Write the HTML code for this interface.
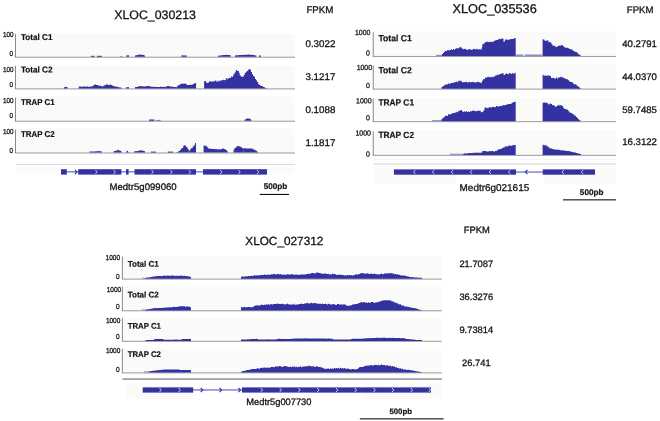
<!DOCTYPE html>
<html><head><meta charset="utf-8"><title>Figure</title>
<style>html,body{margin:0;padding:0;background:#fff}svg{display:block}</style></head>
<body>
<svg width="660" height="421" viewBox="0 0 660 421">
<style>text{font-family:"Liberation Sans",Arial,sans-serif;text-rendering:geometricPrecision;fill:#151515;stroke:#151515;stroke-width:0.3px}.b{font-weight:bold;stroke-width:0.2px}.t{stroke-width:0.28px}</style>
<defs><pattern id="dots" width="2" height="2" patternUnits="userSpaceOnUse"><rect width="2" height="2" fill="#fdfdfc"/><rect width="1" height="1" fill="#f5f5f2"/><rect x="1" y="1" width="1" height="1" fill="#f9f9f7"/></pattern></defs>
<defs><pattern id="dots2" width="2" height="2" patternUnits="userSpaceOnUse"><rect width="2" height="2" fill="#fdfdfc"/><rect width="1" height="1" fill="#f7f7f5"/><rect x="1" y="1" width="1" height="1" fill="#f9f9f8"/></pattern></defs>
<rect width="660" height="421" fill="#fff"/>
<text x="155.1" y="19.1" font-size="12.35" text-anchor="middle">XLOC_030213</text>
<text x="306.4" y="13.1" font-size="9.75">FPKM</text>
<rect x="16.30" y="33.00" width="278.70" height="24.20" fill="url(#dots)"/>
<rect x="15.00" y="56.75" width="280.00" height="0.9" fill="#8e8e8e"/>
<rect x="15.00" y="33.80" width="0.9" height="23.40" fill="#7c7c7c"/>
<text transform="translate(13.50 36.70) rotate(0.03) scale(0.875 1)" font-size="7.20" text-anchor="end" class="t">100</text>
<text transform="translate(13.00 56.20) rotate(0.03) scale(0.875 1)" font-size="7.20" text-anchor="end" class="t">0</text>
<text transform="translate(20.90 39.90) rotate(0.03) scale(0.960 1)" font-size="8.50" text-anchor="start" class="b">Total C1</text>
<rect x="16.30" y="65.00" width="278.70" height="23.90" fill="url(#dots)"/>
<rect x="15.00" y="88.45" width="280.00" height="0.9" fill="#8e8e8e"/>
<rect x="15.00" y="65.80" width="0.9" height="23.10" fill="#7c7c7c"/>
<text transform="translate(13.50 71.60) rotate(0.03) scale(0.875 1)" font-size="7.20" text-anchor="end" class="t">100</text>
<text transform="translate(13.00 87.20) rotate(0.03) scale(0.875 1)" font-size="7.20" text-anchor="end" class="t">0</text>
<text transform="translate(20.90 72.40) rotate(0.03) scale(0.960 1)" font-size="8.50" text-anchor="start" class="b">Total C2</text>
<rect x="16.30" y="96.80" width="278.70" height="24.40" fill="url(#dots)"/>
<rect x="15.00" y="120.75" width="280.00" height="0.9" fill="#8e8e8e"/>
<rect x="15.00" y="97.60" width="0.9" height="23.60" fill="#7c7c7c"/>
<text transform="translate(13.50 102.70) rotate(0.03) scale(0.875 1)" font-size="7.20" text-anchor="end" class="t">100</text>
<text transform="translate(13.00 118.30) rotate(0.03) scale(0.875 1)" font-size="7.20" text-anchor="end" class="t">0</text>
<text transform="translate(20.90 105.00) rotate(0.03) scale(0.931 1)" font-size="8.50" text-anchor="start" class="b">TRAP C1</text>
<rect x="16.30" y="128.80" width="278.70" height="24.20" fill="url(#dots)"/>
<rect x="15.00" y="152.55" width="280.00" height="0.9" fill="#8e8e8e"/>
<rect x="15.00" y="129.60" width="0.9" height="23.40" fill="#7c7c7c"/>
<text transform="translate(13.50 134.40) rotate(0.03) scale(0.875 1)" font-size="7.20" text-anchor="end" class="t">100</text>
<text transform="translate(13.00 153.20) rotate(0.03) scale(0.875 1)" font-size="7.20" text-anchor="end" class="t">0</text>
<text transform="translate(20.90 136.70) rotate(0.03) scale(0.931 1)" font-size="8.50" text-anchor="start" class="b">TRAP C2</text>
<path d="M91.0 56.8L91.0 56.8L91.0 55.8L91.9 55.8L92.8 55.8L93.6 55.8L94.5 55.8L94.5 56.8L94.5 56.8Z" fill="#3431a1"/>
<path d="M97.0 56.8L97.0 56.8L97.0 55.8L98.0 55.8L98.9 55.8L99.9 55.8L100.8 55.8L101.8 55.8L101.8 56.8L101.8 56.8Z" fill="#3431a1"/>
<path d="M120.6 56.8L120.6 56.8L120.6 56.0L121.6 56.0L121.6 56.8L121.6 56.8Z" fill="#3431a1"/>
<path d="M126.5 56.8L126.5 56.8L126.5 55.3L127.8 55.3L129.0 55.3L129.0 56.8L129.0 56.8Z" fill="#3431a1"/>
<path d="M135.0 56.8V56.8H135.0V55.5H136.0V55.3H137.0V55.0H138.0V54.8H139.0V54.6H140.0V54.8H141.0V54.8H142.0V54.8H143.0V55.1H144.0V55.6H145.0V55.8H145.0V56.8V56.8Z" fill="#3431a1"/>
<path d="M181.4 56.8L181.4 56.8L181.4 55.2L182.3 55.3L183.1 55.4L184.0 55.5L184.9 55.5L185.9 55.6L186.8 55.6L186.8 56.8L186.8 56.8Z" fill="#3431a1"/>
<path d="M217.5 56.8V56.8H218.0V55.8H219.0V55.6H220.0V55.5H221.0V55.3H222.0V55.2H223.0V55.0H224.0V55.1H225.0V54.9H226.0V54.8H226.9V55.0H227.9V54.9H228.8V55.1H229.8V55.3H230.7V55.3H230.7V56.8V56.8Z" fill="#3431a1"/>
<path d="M234.5 56.8V56.8H235.0V55.5H236.0V55.3H237.0V55.2H238.0V55.2H239.0V55.1H240.0V55.0H241.0V55.0H242.0V55.0H243.0V54.8H244.0V54.9H245.0V54.8H246.0V54.8H247.0V54.8H248.0V54.6H249.0V54.7H250.0V54.8H251.0V54.8H252.0V54.9H253.0V55.0H254.1V55.2H255.3V55.4H256.4V55.6H256.4V56.8V56.8Z" fill="#3431a1"/>
<path d="M259.0 56.8L259.0 56.8L259.0 55.6L260.0 55.6L261.0 55.6L261.0 56.8L261.0 56.8Z" fill="#3431a1"/>
<path d="M63.6 88.5L63.6 88.5L64.0 87.5L65.0 86.9L66.2 86.9L67.5 86.9L67.5 88.5L67.5 88.5Z" fill="#3431a1"/>
<path d="M78.8 88.5V88.5H78.8V86.6H79.8V86.5H80.9V86.7H81.9V86.7H82.9V86.4H84.0V86.5H85.0V86.7H86.0V86.5H87.1V86.5H88.1V86.7H89.1V86.7H90.2V86.6H91.2V86.5H92.1V86.3H93.0V85.5H94.0V84.8H95.0V84.5H96.0V84.9H97.0V84.9H98.0V85.5H99.0V85.8H99.9V85.7H100.8V86.1H101.8V86.5H102.7V86.3H103.5V85.5H104.5V85.2H105.6V84.5H106.8V84.4H108.0V85.1H109.0V85.1H110.0V84.6H111.0V85.0H112.0V85.5H113.0V85.9H114.2V86.4H115.5V86.5H116.5V86.7H117.5V86.9H118.5V87.2H119.4V87.4H120.4V87.5H121.3V87.7H121.3V88.5V88.5Z" fill="#3431a1"/>
<path d="M126.2 88.5L126.2 88.5L126.2 87.2L127.1 87.2L128.1 87.2L129.0 87.2L129.0 88.5L129.0 88.5Z" fill="#3431a1"/>
<path d="M135.0 88.5V88.5H135.0V87.0H135.9V86.9H136.9V86.9H137.8V86.6H138.8V86.1H139.7V86.2H140.7V86.0H141.7V86.4H142.7V86.3H143.7V86.4H144.8V86.4H145.8V86.0H146.8V86.3H147.8V86.1H148.8V86.1H149.8V86.4H150.8V86.7H151.8V86.8H152.8V86.7H153.8V87.0H154.9V86.8H155.9V87.0H156.9V86.9H157.9V87.0H158.9V86.9H159.9V86.7H160.9V86.8H162.0V87.0H163.0V86.7H164.0V86.9H165.0V86.7H166.0V86.4H167.0V86.0H168.0V85.9H169.0V86.2H170.0V86.4H171.0V86.7H172.0V86.5H173.0V86.9H174.0V87.0H175.0V87.0H176.0V87.2H176.8V86.4H177.6V85.5H178.6V85.0H179.6V84.6H180.6V83.5H181.6V84.0H182.5V83.4H183.4V83.7H184.4V83.4H185.6V84.0H186.7V84.9H187.8V85.0H188.9V85.0H190.1V84.6H191.2V85.0H192.1V84.6H193.0V84.1H194.0V83.5H195.0V83.0H196.1V82.7H196.1V88.5V88.5Z" fill="#3431a1"/>
<path d="M204.1 88.5V88.5H204.1V81.2H205.1V80.9H206.0V82.5H206.9V82.9H207.9V82.6H209.0V81.5H210.2V81.2H211.3V81.9H212.4V81.0H213.4V81.7H214.4V80.8H215.4V80.5H216.5V81.9H217.5V80.7H218.5V81.6H219.6V80.4H220.8V80.5H221.9V80.3H223.0V79.7H223.9V80.2H224.8V80.1H225.8V78.1H226.7V79.2H227.6V78.5H228.7V77.7H229.8V78.0H230.9V76.6H232.0V76.7H233.2V74.6H234.4V72.9H235.2V71.8H235.9V69.9H237.1V71.0H238.2V70.9H238.9V72.7H239.7V75.2H240.7V76.5H241.7V76.7H242.7V76.7H243.7V75.1H244.8V73.0H245.8V72.1H246.7V70.9H247.6V70.5H248.5V69.1H249.8V69.8H251.0V72.1H252.0V74.2H253.0V76.0H254.0V76.7H255.0V78.9H256.0V80.3H257.0V82.0H258.2V84.3H259.4V85.0H260.3V85.8H261.2V86.0H262.2V86.3H263.1V87.1H264.0V87.3H265.1V87.9H266.2V88.5V88.5Z" fill="#3431a1"/>
<path d="M149.0 120.8L149.0 120.8L149.0 119.5L149.9 119.5L150.8 119.5L151.8 119.5L152.7 119.5L153.6 119.5L154.5 119.5L154.5 120.8L154.5 120.8Z" fill="#3431a1"/>
<path d="M156.0 120.8L156.0 120.8L156.0 119.9L157.1 119.9L158.2 119.9L159.4 119.9L160.5 119.9L160.5 120.8L160.5 120.8Z" fill="#6a6ac4"/>
<path d="M244.3 120.8L244.3 120.8L245.0 119.6L245.8 119.2L246.5 118.8L247.2 118.6L248.0 118.5L248.9 118.6L249.8 118.8L251.0 119.6L251.6 120.8L251.6 120.8Z" fill="#3431a1"/>
<path d="M89.5 152.6L89.5 152.6L89.5 151.6L90.4 151.6L91.3 151.5L92.2 151.5L93.2 151.5L94.1 151.4L95.0 151.4L96.0 151.3L97.0 151.2L98.0 151.2L99.0 151.1L100.0 151.3L101.0 151.4L102.0 151.6L102.0 152.6L102.0 152.6Z" fill="#3431a1"/>
<path d="M113.4 152.6L113.4 152.6L114.0 151.1L115.0 150.9L116.0 150.8L117.0 150.6L118.0 149.4L119.0 150.4L120.2 150.8L121.4 151.1L121.4 152.6L121.4 152.6Z" fill="#3431a1"/>
<path d="M126.0 152.6L126.0 152.6L127.0 150.6L128.0 151.6L129.0 152.6L129.0 152.6Z" fill="#3431a1"/>
<path d="M134.0 152.6L134.0 152.6L134.0 151.4L135.0 151.3L136.0 151.2L137.0 151.2L138.0 151.1L139.0 150.7L140.0 150.2L141.0 150.4L142.0 150.6L143.0 150.8L144.0 151.1L145.0 151.4L145.0 152.6L145.0 152.6Z" fill="#3431a1"/>
<path d="M151.0 152.6L151.0 152.6L151.0 151.6L151.9 151.6L152.9 151.6L153.8 151.6L154.8 151.6L155.7 151.6L155.7 152.6L155.7 152.6Z" fill="#3431a1"/>
<path d="M167.7 152.6L167.7 152.6L167.7 151.6L168.8 151.6L169.8 151.6L170.9 151.6L171.9 151.6L173.0 151.6L173.0 152.6L173.0 152.6Z" fill="#3431a1"/>
<path d="M176.8 152.6V152.6H176.8V152.0H177.9V151.4H179.0V150.9H180.0V150.0H181.0V148.5H182.0V147.9H183.2V145.7H184.4V144.9H185.2V145.8H186.0V147.1H187.4V148.6H188.2V149.8H189.0V151.3H189.8V149.9H190.5V148.6H191.6V148.0H192.7V146.4H193.8V145.3H195.0V142.9H196.0V142.6H196.0V152.6V152.6Z" fill="#3431a1"/>
<path d="M203.6 152.6V152.6H203.6V145.2H204.5V146.1H205.5V145.6H206.4V146.4H207.2V147.3H207.9V148.6H208.9V148.3H209.9V149.1H210.9V148.7H212.0V148.9H213.0V148.9H214.0V149.1H215.0V149.3H216.0V148.9H217.0V149.5H218.0V149.3H219.0V149.2H220.0V149.4H221.0V148.9H222.0V148.7H223.0V148.6H224.0V149.0H225.0V149.6H225.9V150.1H226.8V150.9H227.6V152.6V152.6Z" fill="#3431a1"/>
<path d="M232.4 152.6V152.6H233.6V149.4H234.6V147.9H235.7V147.3H236.7V146.1H237.6V146.2H238.6V146.2H239.6V146.5H240.5V147.1H241.6V147.9H242.7V148.6H243.7V148.3H244.8V148.2H245.8V148.4H246.8V148.4H247.8V148.4H248.8V148.6H249.8V148.5H250.8V148.5H251.8V148.6H252.8V149.4H253.8V149.6H254.8V150.2H255.8V150.8H256.9V151.8H257.9V152.6V152.6Z" fill="#3431a1"/>
<rect x="188.7" y="150.2" width="0.8" height="2.3" fill="#3a9a5a"/>
<rect x="243" y="149.4" width="0.8" height="3" fill="#3a9a5a"/>
<text x="320.4" y="47.0" font-size="9.75" text-anchor="middle">0.3022</text>
<text x="320.4" y="79.5" font-size="9.75" text-anchor="middle">3.1217</text>
<text x="320.4" y="113.0" font-size="9.75" text-anchor="middle">0.1088</text>
<text x="320.4" y="145.5" font-size="9.75" text-anchor="middle">1.1817</text>
<rect x="16" y="164.1" width="279" height="0.9" fill="#d6d6de"/>
<rect x="16" y="166.3" width="45" height="8.6" fill="url(#dots2)"/>
<rect x="267" y="166.3" width="28" height="8.6" fill="url(#dots2)"/>
<rect x="61.0" y="171.3" width="206.0" height="1.1" fill="#5a5abc"/>
<rect x="61.0" y="169.2" width="5.8" height="5.4" fill="#3431a1"/>
<rect x="78.2" y="169.2" width="43.2" height="5.4" fill="#3431a1"/>
<rect x="126.0" y="169.2" width="2.6" height="5.4" fill="#3431a1"/>
<rect x="134.5" y="169.2" width="61.5" height="5.4" fill="#3431a1"/>
<rect x="203.0" y="169.2" width="64.0" height="5.4" fill="#3431a1"/>
<path d="M75.0 169.8L77.0 171.9L75.0 174.0" fill="none" stroke="#3431a1" stroke-width="1.1"/>
<path d="M95.4 169.9L97.2 171.9L95.4 173.9" fill="none" stroke="#f0f0ff" stroke-width="0.8"/>
<path d="M113.6 169.9L115.4 171.9L113.6 173.9" fill="none" stroke="#f0f0ff" stroke-width="0.8"/>
<path d="M151.5 169.9L153.3 171.9L151.5 173.9" fill="none" stroke="#f0f0ff" stroke-width="0.8"/>
<path d="M170.4 169.9L172.2 171.9L170.4 173.9" fill="none" stroke="#f0f0ff" stroke-width="0.8"/>
<path d="M188.8 169.9L190.6 171.9L188.8 173.9" fill="none" stroke="#f0f0ff" stroke-width="0.8"/>
<path d="M220.2 169.9L222.0 171.9L220.2 173.9" fill="none" stroke="#f0f0ff" stroke-width="0.8"/>
<path d="M238.4 169.9L240.2 171.9L238.4 173.9" fill="none" stroke="#f0f0ff" stroke-width="0.8"/>
<path d="M257.0 169.9L258.8 171.9L257.0 173.9" fill="none" stroke="#f0f0ff" stroke-width="0.8"/>
<text x="143.05" y="190.1" font-size="9.6" text-anchor="middle">Medtr5g099060</text>
<text x="275.5" y="189.1" font-size="8.2" text-anchor="middle" class="b">500pb</text>
<rect x="259.8" y="193.9" width="29.2" height="1.1" fill="#111"/>
<text x="494.6" y="12.6" font-size="12.75" text-anchor="middle">XLOC_035536</text>
<text x="626.8" y="12.9" font-size="9.6">FPKM</text>
<rect x="373.40" y="31.50" width="242.60" height="24.90" fill="url(#dots)"/>
<rect x="372.75" y="55.95" width="243.25" height="0.9" fill="#8e8e8e"/>
<rect x="372.75" y="32.30" width="0.9" height="24.10" fill="#7c7c7c"/>
<text transform="translate(370.40 35.00) rotate(0.03) scale(0.940 1)" font-size="7.40" text-anchor="end" class="t">1000</text>
<text transform="translate(370.00 55.60) rotate(0.03) scale(0.940 1)" font-size="7.40" text-anchor="end" class="t">0</text>
<text transform="translate(378.40 41.20) rotate(0.03) scale(0.965 1)" font-size="8.95" text-anchor="start" class="b">Total C1</text>
<rect x="373.40" y="64.60" width="242.60" height="24.50" fill="url(#dots)"/>
<rect x="372.75" y="88.65" width="243.25" height="0.9" fill="#8e8e8e"/>
<rect x="372.75" y="65.40" width="0.9" height="23.70" fill="#7c7c7c"/>
<text transform="translate(372.10 70.00) rotate(0.03) scale(0.940 1)" font-size="7.40" text-anchor="end" class="t">1000</text>
<text transform="translate(370.00 88.00) rotate(0.03) scale(0.940 1)" font-size="7.40" text-anchor="end" class="t">0</text>
<text transform="translate(378.40 73.20) rotate(0.03) scale(0.965 1)" font-size="8.95" text-anchor="start" class="b">Total C2</text>
<rect x="373.40" y="97.60" width="242.60" height="24.10" fill="url(#dots)"/>
<rect x="372.75" y="121.25" width="243.25" height="0.9" fill="#8e8e8e"/>
<rect x="372.75" y="98.40" width="0.9" height="23.30" fill="#7c7c7c"/>
<text transform="translate(371.50 103.20) rotate(0.03) scale(0.940 1)" font-size="7.40" text-anchor="end" class="t">1000</text>
<text transform="translate(370.00 120.20) rotate(0.03) scale(0.940 1)" font-size="7.40" text-anchor="end" class="t">0</text>
<text transform="translate(378.40 105.50) rotate(0.03) scale(0.936 1)" font-size="8.95" text-anchor="start" class="b">TRAP C1</text>
<rect x="373.40" y="130.40" width="242.60" height="24.90" fill="url(#dots)"/>
<rect x="372.75" y="154.85" width="243.25" height="0.9" fill="#8e8e8e"/>
<rect x="372.75" y="131.20" width="0.9" height="24.10" fill="#7c7c7c"/>
<text transform="translate(370.90 135.60) rotate(0.03) scale(0.940 1)" font-size="7.40" text-anchor="end" class="t">1000</text>
<text transform="translate(370.00 156.60) rotate(0.03) scale(0.940 1)" font-size="7.40" text-anchor="end" class="t">0</text>
<text transform="translate(378.40 138.00) rotate(0.03) scale(0.936 1)" font-size="8.95" text-anchor="start" class="b">TRAP C2</text>
<path d="M436.0 56.0L436.0 56.0L436.0 54.8L437.0 54.8L438.0 54.8L439.0 54.8L440.0 54.8L441.0 54.8L442.0 54.8L442.0 56.0L442.0 56.0Z" fill="#8c8cd6"/>
<path d="M441.2 56.0V56.0H442.0V54.0H443.0V52.7H444.0V51.7H445.0V51.0H446.0V51.0H447.0V50.3H448.0V50.3H449.0V50.3H450.0V50.0H451.0V49.3H452.0V50.1H453.0V48.9H454.0V49.7H455.0V48.8H456.1V48.3H457.1V48.2H458.2V48.2H459.2V47.2H460.3V47.2H461.5V48.2H462.6V49.2H463.7V49.1H464.7V48.7H465.8V49.6H466.8V50.0H467.9V49.6H468.9V49.1H470.0V49.4H471.1V49.8H472.1V49.8H473.2V48.8H474.2V49.1H475.3V49.4H476.4V48.7H477.4V49.5H478.5V49.2H479.6V49.3H480.8V49.8H481.6V47.4H482.3V44.2H483.4V43.5H484.5V42.7H485.4V42.1H486.3V41.8H487.2V41.7H488.2V42.3H489.1V41.8H490.0V41.8H490.9V41.9H491.8V42.0H492.7V41.4H493.6V41.2H494.6V40.4H495.7V40.0H496.7V40.1H497.8V39.4H498.9V38.7H500.1V39.3H501.2V38.6H502.6V38.7H503.5V41.9H504.2V41.2H505.0V39.6H506.0V39.6H507.0V39.8H508.0V39.8H509.0V39.4H510.0V39.2H510.9V38.9H511.8V39.0H512.8V39.1H513.7V38.3H514.6V37.9H515.5V38.5H515.7V56.0V56.0Z" fill="#3431a1"/>
<path d="M542.6 56.0V56.0H542.6V39.2H543.5V39.6H544.4V40.5H545.3V40.9H546.2V40.6H547.3V40.5H548.5V42.2H549.6V42.0H550.5V42.8H551.5V44.2H552.4V45.4H553.3V46.1H554.1V45.8H555.0V46.6H556.0V47.0H557.0V46.6H558.0V45.8H558.9V45.6H559.8V45.9H560.7V45.0H561.7V45.1H562.7V46.1H563.7V46.9H564.6V47.4H565.6V47.9H566.5V47.5H567.5V48.1H568.4V48.6H569.3V48.9H570.2V49.3H571.2V49.5H572.1V49.8H573.0V50.9H573.9V51.0H574.8V52.0H575.6V52.0H576.5V52.3H577.5V53.5H578.5V54.4H579.6V55.1H580.6V56.0V56.0Z" fill="#3431a1"/>
<path d="M515.7 56.0L515.7 56.0L515.7 54.5L516.7 54.5L517.6 54.5L518.5 54.5L519.5 54.5L520.5 54.5L521.4 54.5L522.3 54.5L523.3 54.5L523.3 56.0L523.3 56.0Z" fill="#8c8cd6"/>
<path d="M524.8 56.0L524.8 56.0L524.8 54.5L525.8 54.5L526.8 54.5L527.8 54.5L528.8 54.5L529.8 54.5L530.8 54.5L531.8 54.5L532.8 54.5L533.8 54.5L534.7 54.5L535.7 54.5L536.7 54.5L537.7 54.5L538.7 54.5L539.7 54.5L540.7 54.5L541.7 54.5L542.7 54.5L542.7 56.0L542.7 56.0Z" fill="#8c8cd6"/>
<path d="M440.6 88.7V88.7H441.5V87.1H442.4V86.5H443.2V85.6H444.1V85.5H445.0V84.5H446.0V84.6H447.0V84.3H448.0V83.6H449.0V83.7H450.0V83.5H451.0V83.1H452.0V82.7H453.0V82.9H454.0V82.1H455.0V82.3H456.1V81.4H457.1V82.2H458.2V80.7H459.2V80.7H460.3V80.7H461.5V82.0H462.6V82.2H463.7V82.3H464.7V82.1H465.8V81.7H466.8V82.5H467.9V82.2H468.9V81.8H470.0V82.4H471.1V82.0H472.1V81.7H473.2V82.4H474.2V82.1H475.3V82.7H476.4V81.9H477.4V81.8H478.5V82.2H479.6V82.4H480.8V82.9H481.9V80.7H483.0V79.2H484.0V79.1H485.0V77.6H486.0V77.7H487.0V76.9H488.0V76.8H489.0V77.3H490.0V77.3H490.9V76.8H491.8V77.4H492.7V76.4H493.6V76.9H494.6V75.7H495.7V75.6H496.7V74.7H497.8V75.0H498.9V74.2H500.0V73.9H501.1V73.4H502.2V73.1H502.9V73.3H503.6V75.1H505.0V73.9H506.0V73.4H507.0V73.8H508.0V74.3H509.0V73.1H510.0V73.5H510.9V74.0H511.8V72.9H512.8V73.7H513.7V73.4H514.6V72.7H515.5V73.0H515.7V88.7V88.7Z" fill="#3431a1"/>
<path d="M542.6 88.7V88.7H542.6V74.7H543.5V75.5H544.4V75.7H545.3V75.4H546.2V75.7H547.3V75.5H548.5V75.4H549.6V76.0H551.0V78.1H552.0V77.9H553.0V77.7H554.0V78.4H555.0V78.5H556.0V77.5H557.0V78.4H558.0V77.5H558.9V77.6H559.8V76.9H560.7V76.7H561.6V77.5H562.5V77.3H563.4V78.1H564.4V78.4H565.5V79.0H566.5V79.0H567.5V79.9H568.4V80.4H569.3V81.4H570.2V81.9H571.2V81.9H572.1V82.4H573.0V83.6H573.9V84.4H574.8V84.1H575.6V84.5H576.5V85.4H577.5V86.2H578.5V87.0H579.6V87.9H580.6V88.7V88.7Z" fill="#3431a1"/>
<path d="M432.0 121.3L432.0 121.3L432.0 120.1L433.0 120.1L434.0 120.1L435.0 120.1L436.0 120.1L437.0 120.1L438.0 120.1L439.0 120.1L440.0 120.1L441.0 120.1L442.0 120.1L442.0 121.3L442.0 121.3Z" fill="#8c8cd6"/>
<path d="M440.5 121.3V121.3H441.5V118.8H442.4V118.4H443.2V117.4H444.1V116.7H445.0V116.0H446.0V115.5H447.0V116.1H448.0V114.2H449.0V114.6H450.0V114.3H451.1V114.1H452.2V113.0H453.4V113.0H454.5V112.7H455.4V112.4H456.2V111.7H457.1V112.3H458.0V111.3H459.0V110.7H460.0V110.3H461.0V109.9H461.8V111.1H462.6V112.1H463.8V111.3H465.0V111.9H466.0V111.1H467.0V112.0H468.0V111.6H469.0V112.0H470.0V111.3H471.0V111.3H472.0V110.7H473.0V110.5H474.0V111.1H475.0V111.0H475.9V111.2H476.8V111.3H477.6V110.6H478.5V110.7H479.6V110.8H480.8V112.3H482.0V112.1H483.2V110.5H484.5V107.7H485.4V107.2H486.3V108.3H487.2V108.0H488.2V107.9H489.1V107.1H490.0V107.3H490.9V107.5H491.8V107.3H492.7V106.8H493.6V106.9H494.7V107.3H495.9V106.1H497.0V106.3H497.9V106.7H498.9V105.9H499.9V106.2H500.8V106.1H501.8V105.4H502.7V105.3H503.8V105.2H504.9V105.1H506.0V104.7H506.9V104.6H507.9V104.1H508.8V103.9H509.9V104.0H510.9V103.6H512.0V102.7H512.9V102.2H513.8V101.9H514.6V101.8H515.5V101.5H515.7V121.3V121.3Z" fill="#3431a1"/>
<path d="M542.6 121.3V121.3H542.6V102.8H543.7V102.4H544.9V102.7H546.0V102.8H547.0V103.3H548.0V104.6H548.9V104.3H549.7V103.4H550.9V103.9H552.0V104.9H553.0V105.2H554.0V105.7H555.0V106.8H555.9V106.5H556.7V106.0H557.6V105.3H558.5V104.8H559.4V105.7H560.3V104.9H561.2V105.5H562.1V106.1H563.0V107.7H564.1V108.7H565.1V109.2H566.2V109.2H567.3V110.1H568.3V111.3H569.3V112.4H570.3V112.8H571.2V113.0H572.2V114.1H573.1V114.3H574.1V115.6H575.0V115.8H576.0V117.0H577.0V117.9H578.0V119.2H579.2V120.2H580.5V121.3V121.3Z" fill="#3431a1"/>
<path d="M450.0 154.9L450.0 154.9L450.0 153.7L451.0 153.7L452.0 153.7L453.0 153.7L454.0 153.7L455.0 153.7L456.0 153.7L457.0 153.7L458.0 153.7L459.0 153.7L460.0 153.7L461.0 153.7L462.0 153.7L463.0 153.7L464.0 153.7L465.0 153.7L466.0 153.7L466.0 154.9L466.0 154.9Z" fill="#8c8cd6"/>
<path d="M462.0 154.9V154.9H463.0V154.2H464.0V153.6H465.0V153.6H466.0V153.5H467.0V153.3H468.0V153.2H469.0V153.1H470.0V153.1H471.0V153.1H472.0V153.0H473.0V152.8H474.0V152.8H475.0V152.7H476.0V152.7H477.1V152.8H478.1V152.8H479.2V152.7H480.2V152.7H481.3V152.5H482.3V151.1H483.3V151.1H484.2V151.1H485.2V151.1H486.1V151.4H487.1V151.4H488.1V151.4H489.0V151.1H490.0V151.3H491.0V151.0H492.0V151.0H493.0V151.4H494.0V151.4H495.0V150.9H496.0V151.1H496.8V150.4H497.5V149.7H498.4V149.2H499.2V149.3H500.1V149.0H501.0V148.7H502.0V148.1H503.0V147.5H504.0V147.2H505.0V146.6H506.0V146.3H507.0V146.5H508.0V145.8H509.0V145.6H510.0V145.7H510.9V145.8H511.8V145.4H512.8V145.0H513.7V145.1H514.6V145.1H515.5V144.7H515.7V154.9V154.9Z" fill="#3431a1"/>
<path d="M542.6 154.9V154.9H542.6V144.7H543.7V145.2H544.9V145.2H546.0V145.5H546.9V146.6H547.8V146.6H548.6V147.4H549.5V148.3H550.4V148.4H551.2V148.5H552.1V148.9H553.0V149.3H554.0V149.5H555.0V149.5H556.0V149.7H557.0V149.4H558.0V149.9H559.0V149.8H560.0V150.4H561.0V150.1H562.0V150.5H563.0V150.5H564.0V150.6H565.0V150.7H566.0V151.0H567.0V151.1H568.0V151.1H569.0V151.3H570.0V151.6H571.0V151.8H572.0V152.1H573.0V152.2H574.0V152.5H575.0V152.6H576.0V152.9H577.0V153.3H578.0V153.5H579.0V153.8H580.0V154.1H581.0V154.4H581.0V154.9V154.9Z" fill="#3431a1"/>
<text x="639.6" y="47.0" font-size="9.6" text-anchor="middle">40.2791</text>
<text x="639.6" y="79.5" font-size="9.6" text-anchor="middle">44.0370</text>
<text x="639.6" y="112.6" font-size="9.6" text-anchor="middle">59.7485</text>
<text x="639.6" y="145.3" font-size="9.6" text-anchor="middle">16.3122</text>
<rect x="373.5" y="158.9" width="242.5" height="0.7" fill="#ececf4"/>
<rect x="373.5" y="163.5" width="242.5" height="1.1" fill="#d6d6de"/>
<rect x="374" y="166" width="82" height="17.5" fill="url(#dots2)"/>
<rect x="544" y="166" width="72" height="17.5" fill="url(#dots2)"/>
<rect x="516.0" y="171.5" width="26.7" height="1.1" fill="#5a5abc"/>
<rect x="393.9" y="169.4" width="122.1" height="5.3" fill="#3431a1"/>
<rect x="542.7" y="169.4" width="52.3" height="5.3" fill="#3431a1"/>
<path d="M415.4 170.1L413.6 172.1L415.4 174.1" fill="none" stroke="#f0f0ff" stroke-width="0.8"/>
<path d="M434.3 170.1L432.5 172.1L434.3 174.1" fill="none" stroke="#f0f0ff" stroke-width="0.8"/>
<path d="M453.1 170.1L451.3 172.1L453.1 174.1" fill="none" stroke="#f0f0ff" stroke-width="0.8"/>
<path d="M472.1 170.1L470.3 172.1L472.1 174.1" fill="none" stroke="#f0f0ff" stroke-width="0.8"/>
<path d="M491.0 170.1L489.2 172.1L491.0 174.1" fill="none" stroke="#f0f0ff" stroke-width="0.8"/>
<path d="M510.3 170.1L508.5 172.1L510.3 174.1" fill="none" stroke="#f0f0ff" stroke-width="0.8"/>
<path d="M563.8 170.1L562.0 172.1L563.8 174.1" fill="none" stroke="#f0f0ff" stroke-width="0.8"/>
<path d="M583.1 170.1L581.3 172.1L583.1 174.1" fill="none" stroke="#f0f0ff" stroke-width="0.8"/>
<path d="M527.4 170.0L525.4 172.1L527.4 174.2" fill="none" stroke="#3431a1" stroke-width="1.1"/>
<text x="494.4" y="191.4" font-size="9.95" text-anchor="middle">Medtr6g021615</text>
<text x="591.7" y="194.5" font-size="8.2" text-anchor="middle" class="b">500pb</text>
<rect x="563" y="199.3" width="53" height="1.1" fill="#111"/>
<text x="284.3" y="245.3" font-size="11.8" text-anchor="middle">XLOC_027312</text>
<text x="463.7" y="233" font-size="9.4">FPKM</text>
<rect x="122.90" y="256.60" width="318.90" height="22.50" fill="url(#dots)"/>
<rect x="121.90" y="278.65" width="319.90" height="0.9" fill="#8e8e8e"/>
<rect x="121.90" y="256.40" width="0.9" height="22.70" fill="#7c7c7c"/>
<text transform="translate(120.00 259.90) rotate(0.03) scale(0.900 1)" font-size="7.20" text-anchor="end" class="t">1000</text>
<text transform="translate(119.60 278.70) rotate(0.03) scale(0.900 1)" font-size="7.20" text-anchor="end" class="t">0</text>
<text transform="translate(127.70 266.70) rotate(0.03) scale(0.970 1)" font-size="8.30" text-anchor="start" class="b">Total C1</text>
<rect x="122.90" y="286.70" width="318.90" height="24.10" fill="url(#dots)"/>
<rect x="121.90" y="310.35" width="319.90" height="0.9" fill="#8e8e8e"/>
<rect x="121.90" y="286.50" width="0.9" height="24.30" fill="#7c7c7c"/>
<text transform="translate(121.10 292.30) rotate(0.03) scale(0.900 1)" font-size="7.20" text-anchor="end" class="t">1000</text>
<text transform="translate(119.60 308.80) rotate(0.03) scale(0.900 1)" font-size="7.20" text-anchor="end" class="t">0</text>
<text transform="translate(127.70 297.50) rotate(0.03) scale(0.970 1)" font-size="8.30" text-anchor="start" class="b">Total C2</text>
<rect x="122.90" y="318.00" width="318.90" height="23.30" fill="url(#dots)"/>
<rect x="121.90" y="340.85" width="319.90" height="0.9" fill="#8e8e8e"/>
<rect x="121.90" y="317.80" width="0.9" height="23.50" fill="#7c7c7c"/>
<text transform="translate(120.30 323.10) rotate(0.03) scale(0.900 1)" font-size="7.20" text-anchor="end" class="t">1000</text>
<text transform="translate(119.60 338.80) rotate(0.03) scale(0.900 1)" font-size="7.20" text-anchor="end" class="t">0</text>
<text transform="translate(127.70 328.80) rotate(0.03) scale(0.941 1)" font-size="8.30" text-anchor="start" class="b">TRAP C1</text>
<rect x="122.90" y="348.80" width="318.90" height="24.10" fill="url(#dots)"/>
<rect x="121.90" y="372.45" width="319.90" height="0.9" fill="#8e8e8e"/>
<rect x="121.90" y="348.60" width="0.9" height="24.30" fill="#7c7c7c"/>
<text transform="translate(120.30 352.80) rotate(0.03) scale(0.900 1)" font-size="7.20" text-anchor="end" class="t">1000</text>
<text transform="translate(119.60 372.50) rotate(0.03) scale(0.900 1)" font-size="7.20" text-anchor="end" class="t">0</text>
<text transform="translate(127.70 356.90) rotate(0.03) scale(0.941 1)" font-size="8.30" text-anchor="start" class="b">TRAP C2</text>
<path d="M142.0 278.7L142.0 278.7L142.0 277.7L143.0 277.7L144.0 277.7L145.0 277.7L146.0 277.7L146.0 278.7L146.0 278.7Z" fill="#8c8cd6"/>
<path d="M144.3 278.7V278.7H145.2V278.2H146.0V277.7H147.0V277.6H148.0V277.4H149.0V277.4H150.0V277.1H151.0V277.0H152.0V276.8H153.0V276.6H154.0V276.6H155.0V276.2H156.0V276.2H157.0V276.1H158.0V276.1H159.0V276.0H160.0V276.0H161.0V275.9H162.0V276.0H163.0V275.6H164.0V275.8H165.0V275.8H166.1V275.7H167.1V275.6H168.2V275.5H169.2V275.9H170.3V275.6H171.3V275.5H172.4V275.6H173.3V275.7H174.3V275.7H175.2V275.9H176.2V275.8H177.2V275.7H178.1V275.9H179.1V275.8H180.0V275.7H180.9V275.6H181.9V275.8H182.8V275.9H183.8V275.8H184.8V276.0H185.7V275.9H186.7V276.2H187.6V276.3H188.6V276.4H189.6V276.8H190.6V276.9H191.0V278.7V278.7Z" fill="#3431a1"/>
<path d="M241.0 278.7V278.7H241.0V276.7H242.0V276.6H243.0V276.4H244.0V276.7H245.0V276.2H246.0V276.4H247.0V276.2H248.0V276.1H249.0V276.2H250.0V276.0H251.0V275.8H252.0V276.0H253.0V275.7H254.0V275.3H255.0V275.6H256.0V275.4H257.0V275.3H258.0V275.4H259.0V275.3H260.0V275.1H261.0V274.9H261.9V274.9H262.9V275.0H263.9V274.6H264.9V274.8H265.8V275.0H266.8V274.5H267.8V274.7H268.9V274.8H269.9V274.7H270.9V274.2H271.9V274.5H272.9V274.0H274.0V274.1H275.0V274.3H275.9V274.7H276.8V273.8H277.8V273.9H278.7V274.6H279.6V273.9H280.5V274.2H281.2V274.5H282.0V274.7H283.0V274.7H284.0V274.3H285.0V274.9H286.0V274.6H287.0V274.3H288.0V274.4H289.0V274.6H290.0V274.6H291.0V274.2H292.0V274.3H293.0V274.5H294.0V274.9H295.0V274.5H296.0V274.6H297.0V274.8H298.0V274.9H299.0V274.5H300.0V274.8H301.0V274.6H302.0V274.4H303.0V274.5H304.0V274.4H305.0V274.5H306.0V274.1H307.0V274.1H308.0V273.7H309.0V273.8H310.0V273.7H311.0V273.1H311.9V273.0H312.9V273.0H313.9V273.4H314.9V273.4H315.8V272.5H316.8V272.7H317.9V272.6H318.9V273.0H320.0V273.3H321.0V273.6H322.0V273.8H323.0V273.7H324.0V273.6H325.0V273.8H326.0V273.8H327.0V273.9H328.0V273.8H329.0V274.4H330.0V274.2H331.0V274.4H332.0V273.8H333.0V273.9H334.0V273.9H335.0V274.3H336.0V274.8H337.0V274.9H338.0V274.8H339.0V274.8H340.0V274.8H341.0V274.8H342.0V275.3H343.0V275.0H344.0V275.4H345.0V275.2H346.0V275.5H347.0V275.1H348.0V275.2H349.0V275.1H350.0V275.3H351.0V275.2H352.0V275.4H353.0V275.2H354.0V275.1H355.0V274.6H356.0V274.3H357.0V274.7H358.0V274.1H358.9V274.2H359.9V273.3H360.9V273.3H361.8V273.2H362.8V273.0H363.9V273.7H364.9V273.5H365.9V273.8H367.0V273.3H368.0V273.7H368.9V273.9H369.9V273.7H370.8V273.4H371.8V274.1H372.7V274.0H373.6V273.8H374.6V273.8H375.5V274.2H376.6V274.2H377.8V274.2H378.9V274.4H380.0V273.9H381.0V273.5H382.0V274.2H383.0V274.1H384.0V273.6H385.0V273.6H386.0V273.5H387.0V273.2H388.0V273.5H389.0V273.0H390.0V273.6H391.0V273.1H392.0V273.6H393.0V273.4H394.0V274.3H395.0V274.1H396.0V274.5H397.0V274.3H398.0V274.7H398.9V274.7H399.9V275.2H400.8V275.4H401.8V275.4H402.7V275.5H403.7V275.5H404.8V275.9H405.8V276.0H406.9V276.5H408.1V276.5H409.2V276.9H410.3V277.2H411.2V277.1H412.2V277.2H413.1V277.3H414.1V277.5H415.1V277.5H416.0V277.6H417.0V277.6H418.0V277.7H419.0V277.8H420.0V277.8H421.0V277.8H422.0V277.9H422.0V278.7V278.7Z" fill="#3431a1"/>
<path d="M142.0 310.4L142.0 310.4L142.0 309.4L143.0 309.4L144.0 309.4L145.0 309.4L146.0 309.4L146.0 310.4L146.0 310.4Z" fill="#8c8cd6"/>
<path d="M144.3 310.4V310.4H145.2V309.9H146.0V309.5H147.0V309.3H148.0V309.2H149.0V309.0H150.0V308.9H150.9V308.8H151.8V308.6H152.7V308.3H153.7V308.3H154.8V308.0H155.8V308.0H156.9V308.2H157.9V308.1H159.0V308.0H160.0V307.9H161.0V307.9H162.0V307.8H163.0V307.8H164.0V307.8H165.0V307.6H166.0V307.4H167.0V307.4H168.0V307.4H169.0V307.2H170.0V307.2H171.0V307.4H172.0V307.0H173.0V306.8H174.0V307.1H175.0V306.9H176.1V307.1H177.2V306.7H178.2V306.6H179.3V306.5H180.4V306.1H181.5V306.3H182.6V306.3H183.8V306.2H184.9V306.7H186.0V306.5H187.0V306.6H188.0V306.5H189.0V306.8H190.0V307.2H191.0V307.2H191.0V310.4V310.4Z" fill="#3431a1"/>
<path d="M241.0 310.4V310.4H241.0V307.1H242.0V307.4H243.1V306.9H244.1V306.8H245.1V307.4H246.2V307.0H247.2V307.3H248.3V306.9H249.3V306.9H250.3V307.2H251.4V307.2H252.4V307.0H253.6V306.1H254.7V305.6H255.8V305.5H256.8V305.2H257.9V305.5H258.9V305.5H260.0V305.2H261.0V304.6H262.0V304.9H263.0V305.0H264.0V304.8H265.0V304.8H266.0V304.5H267.0V304.5H268.0V304.2H269.0V304.7H270.0V304.2H271.0V304.3H272.0V304.4H273.1V304.0H274.1V304.0H275.2V303.9H276.2V303.8H277.3V303.6H278.4V303.9H279.4V304.0H280.5V304.0H281.4V303.8H282.4V303.7H283.3V304.2H284.2V304.2H285.2V304.5H286.1V303.9H287.1V303.6H288.0V304.2H288.9V304.4H289.9V304.6H290.9V304.6H291.8V304.4H292.8V304.6H293.7V303.8H294.7V304.9H295.6V304.4H296.7V304.5H297.8V304.6H298.9V303.9H300.0V304.0H301.0V303.6H302.0V304.1H303.0V304.1H304.0V303.6H305.0V303.4H306.0V303.2H306.9V302.7H307.9V303.6H308.9V303.4H309.8V303.2H310.8V302.8H311.9V303.2H312.9V303.3H313.9V302.9H315.0V303.2H316.0V303.2H317.0V303.7H318.0V303.8H319.0V303.8H320.0V303.7H321.0V304.1H322.0V303.6H323.0V304.1H324.0V303.9H325.0V303.7H326.0V304.1H327.0V304.5H328.0V303.8H329.0V303.9H330.0V304.4H331.0V304.6H332.0V304.3H333.0V303.9H334.0V304.4H335.0V304.7H336.0V304.9H337.0V303.9H338.0V304.1H339.0V304.5H340.0V304.4H341.0V304.4H342.0V304.6H343.0V304.4H343.9V304.2H344.9V304.8H345.8V305.6H346.7V305.6H347.8V306.0H348.9V305.4H349.9V305.4H351.0V305.2H352.0V304.6H353.0V304.4H354.0V304.2H355.0V304.0H356.0V304.1H357.0V303.8H358.0V303.3H359.0V303.1H360.0V302.5H361.0V302.1H362.0V302.5H363.0V302.3H364.0V302.0H365.0V302.8H366.0V302.5H367.0V302.9H368.0V302.2H369.0V303.0H370.0V302.5H370.9V302.1H371.8V302.1H372.8V302.1H373.7V302.9H374.6V302.7H375.5V302.4H376.6V301.9H377.8V302.2H378.9V301.5H380.0V301.2H381.1V301.0H382.2V300.2H383.4V300.4H384.5V300.2H385.5V299.9H386.5V300.6H387.6V300.1H388.6V300.6H389.6V300.2H390.6V300.7H391.6V301.6H392.6V301.2H393.6V302.0H394.6V302.8H395.7V302.8H396.7V303.3H397.7V303.7H398.7V304.4H399.7V304.1H400.7V305.0H401.7V305.4H402.7V305.6H403.8V306.3H404.9V306.4H405.9V306.5H407.0V306.8H408.0V306.8H408.9V307.3H409.9V307.3H410.8V307.8H411.8V307.8H412.8V308.1H413.9V308.3H414.9V308.3H416.0V308.6H417.0V309.0H418.1V309.3H419.2V309.7H420.4V310.0H421.5V310.4V310.4Z" fill="#3431a1"/>
<path d="M145.5 340.9L145.5 340.9L145.5 339.9L146.6 339.9L147.6 339.9L148.7 339.9L149.8 339.9L150.8 339.9L151.9 339.9L152.9 339.9L154.0 339.9L154.5 338.9L155.6 338.9L156.6 338.9L157.7 338.9L158.8 338.9L159.8 338.9L160.9 338.9L161.9 338.9L163.0 338.9L163.5 339.8L164.6 339.8L165.6 339.8L166.7 339.8L167.7 339.8L168.8 339.8L169.8 339.8L170.8 339.8L171.9 339.8L172.9 339.8L174.0 339.8L175.0 339.6L176.0 339.5L177.0 339.6L178.0 339.8L178.9 339.8L179.8 339.8L180.6 339.8L181.5 339.8L182.0 338.9L183.0 338.9L184.0 338.9L185.0 338.9L186.0 338.9L187.0 338.9L188.0 338.9L189.0 338.9L190.0 338.9L191.0 338.9L191.0 340.9L191.0 340.9Z" fill="#3431a1"/>
<path d="M241.0 340.9V340.9H241.0V339.5H242.0V339.4H243.0V339.5H244.0V339.4H245.0V339.4H246.0V339.4H247.0V339.3H248.0V339.3H249.0V339.2H250.0V339.3H251.0V339.0H252.0V339.0H253.0V339.0H254.0V338.9H255.0V338.9H256.0V338.8H257.0V339.1H258.0V339.4H259.0V339.4H260.0V339.4H261.0V339.4H262.0V339.4H263.0V339.4H264.0V339.4H265.0V339.4H266.0V339.4H267.0V339.4H268.0V339.3H269.0V339.4H270.0V339.4H271.0V339.4H272.0V339.4H273.0V339.5H274.0V339.5H275.0V339.4H276.0V339.3H277.0V339.0H278.0V338.8H279.0V338.8H280.0V338.9H281.0V338.9H282.0V338.8H283.0V338.9H284.0V339.1H285.0V339.0H286.0V339.0H287.0V339.0H288.0V339.0H289.0V338.9H290.0V338.9H291.0V338.7H292.0V338.7H293.0V338.7H294.0V338.6H295.0V338.6H296.0V338.5H297.0V338.5H298.0V338.6H299.0V338.6H300.0V338.5H301.0V338.6H302.0V338.5H303.0V338.4H304.0V338.3H305.0V338.4H306.0V338.3H307.0V338.4H308.0V338.4H309.0V338.5H310.0V338.4H311.0V338.4H312.0V338.4H313.0V338.5H314.0V338.4H315.0V338.4H316.0V338.4H317.0V338.4H318.0V338.4H319.0V338.5H320.0V338.6H321.0V338.5H322.0V338.4H323.0V338.5H324.0V338.6H325.0V338.6H326.0V338.6H327.0V338.7H328.0V338.6H329.0V338.6H330.0V338.7H331.0V338.7H332.0V338.8H333.0V339.5H334.0V339.5H335.0V339.5H336.0V339.4H337.0V339.5H338.0V339.5H339.0V339.6H340.0V339.5H341.0V339.5H342.0V339.5H343.0V339.5H344.0V339.4H345.0V339.5H346.0V339.5H347.0V339.6H348.0V339.4H349.0V339.6H350.0V339.5H351.0V339.1H352.0V338.8H353.0V338.8H354.0V338.8H355.0V338.8H356.0V338.8H357.0V338.7H358.0V338.7H359.0V338.7H360.0V338.8H361.0V338.7H362.0V338.7H363.0V338.4H364.0V338.5H365.0V338.3H366.0V338.2H367.0V338.3H368.0V338.2H369.0V338.0H370.0V338.2H371.0V338.0H372.0V338.0H373.0V338.1H374.0V338.1H375.0V338.0H376.0V337.8H377.0V337.7H378.0V337.8H379.0V337.9H380.0V337.8H381.0V337.7H382.0V337.7H383.0V337.8H384.0V337.8H385.0V337.7H386.0V337.9H387.0V337.9H388.0V337.8H389.0V337.9H390.0V337.8H391.0V337.9H392.0V337.8H393.0V338.0H394.0V337.9H395.0V338.0H396.0V337.9H397.0V338.0H398.0V338.0H399.0V338.0H400.0V338.2H401.0V338.1H402.0V338.2H403.0V338.0H404.0V338.2H405.0V338.8H406.0V338.9H407.0V339.0H408.0V339.1H409.0V339.2H410.0V339.3H411.0V339.4H412.0V339.5H413.0V339.6H414.0V339.8H415.0V339.8H416.0V339.9H417.0V339.9H418.0V340.0H419.0V340.0H420.0V340.1H421.0V340.1H422.0V340.2H422.0V340.9V340.9Z" fill="#3431a1"/>
<path d="M144.0 372.5L144.0 372.5L144.0 371.3L145.0 371.3L146.0 371.3L147.0 371.3L148.0 371.3L149.0 371.3L150.0 371.3L150.0 372.5L150.0 372.5Z" fill="#8c8cd6"/>
<path d="M148.0 372.5L148.0 372.5L149.0 371.9L150.0 371.3L151.0 371.1L152.0 371.0L153.0 370.8L154.0 370.7L155.0 370.5L156.0 370.4L157.0 370.3L158.0 370.2L159.0 370.1L160.0 370.0L161.0 369.9L162.0 369.8L163.0 369.7L164.0 369.6L165.0 369.5L166.0 369.5L167.0 369.5L168.0 369.5L169.0 369.5L170.0 369.5L171.0 369.5L172.0 369.5L173.0 369.5L174.0 369.5L175.0 369.5L176.0 369.5L177.0 369.5L178.0 369.5L179.0 369.5L180.0 370.1L181.0 370.1L182.0 370.1L183.0 370.1L184.0 370.1L185.0 370.1L186.0 370.1L187.0 370.1L188.0 370.1L189.0 370.1L190.0 370.1L191.0 370.1L191.0 372.5L191.0 372.5Z" fill="#3431a1"/>
<path d="M241.0 372.5V372.5H241.0V371.5H242.0V371.3H243.0V371.1H244.0V370.7H245.0V370.7H246.0V370.3H247.0V370.0H248.0V370.0H249.0V369.8H250.0V369.5H251.0V369.3H252.0V368.9H253.0V369.1H254.0V368.9H255.0V368.9H256.0V368.7H257.0V368.2H258.0V368.6H259.0V368.8H260.0V368.0H261.0V367.8H262.0V367.8H263.0V367.8H264.0V367.6H265.0V367.7H266.0V367.8H267.0V367.4H268.0V367.8H269.0V367.7H270.0V367.2H271.0V367.0H272.0V366.9H273.0V366.9H274.0V367.2H275.0V366.3H276.0V366.4H277.0V366.6H278.0V366.4H279.0V366.1H280.0V366.3H281.0V366.6H282.0V366.9H283.0V366.5H284.0V366.1H285.0V366.1H286.0V366.6H287.0V366.4H288.0V366.9H289.0V367.0H289.9V366.6H290.9V367.2H291.9V366.6H292.8V366.8H293.8V366.5H294.7V367.3H295.7V366.6H296.7V367.3H297.6V366.9H298.6V366.9H299.7V366.3H300.9V367.2H302.0V366.5H303.0V366.7H304.0V366.5H305.0V366.4H306.0V366.1H307.0V366.6H308.0V365.7H309.0V365.8H310.0V366.3H311.0V366.3H312.0V366.2H313.0V366.2H313.9V366.8H314.9V366.9H315.8V366.0H316.8V366.5H317.9V367.0H318.9V367.1H319.9V366.9H321.0V367.7H322.0V367.5H323.0V368.2H324.0V368.7H325.0V368.8H326.0V368.9H327.0V368.5H328.0V368.5H329.0V369.0H330.0V368.4H331.0V368.7H332.0V368.6H333.0V368.8H334.0V368.1H335.0V368.4H336.0V367.9H337.0V368.6H338.0V368.1H339.0V368.5H340.0V367.7H341.0V368.5H342.0V368.0H343.0V368.5H344.0V368.1H345.0V368.7H346.0V368.7H346.9V368.5H347.9V368.7H348.8V368.9H349.7V369.2H350.7V369.5H351.7V369.1H352.8V368.9H353.8V369.2H354.8V369.5H355.8V369.2H356.9V368.9H357.9V368.2H358.9V367.2H360.0V366.9H361.0V367.1H362.0V366.9H363.0V366.7H364.0V366.0H365.0V366.0H366.1V365.5H367.2V365.8H368.3V365.4H369.4V365.4H370.3V364.9H371.3V365.2H372.2V365.5H373.1V365.4H374.1V364.7H375.0V365.1H376.0V364.9H377.0V365.3H378.0V364.8H379.0V365.4H380.0V364.9H381.0V364.4H382.0V365.1H383.0V365.1H384.0V365.1H385.0V365.7H386.0V365.3H387.0V365.3H388.0V365.8H389.0V366.0H390.0V365.5H391.0V366.4H392.0V366.1H393.0V366.6H394.0V366.4H395.0V367.3H396.0V367.3H397.0V367.9H398.0V367.9H399.0V368.6H400.0V368.2H401.0V368.9H402.0V368.7H403.0V369.6H404.0V369.4H405.0V369.4H406.0V369.7H407.0V369.9H407.9V369.7H408.9V370.1H409.9V370.3H410.8V370.3H411.8V370.4H412.9V370.5H413.9V370.9H414.9V370.9H416.0V371.2H417.0V371.4H418.0V371.6H419.0V371.8H420.0V372.0H421.0V372.2H422.0V372.5V372.5Z" fill="#3431a1"/>
<text x="476.3" y="267.3" font-size="9.35" text-anchor="middle">21.7087</text>
<text x="476.3" y="300.0" font-size="9.35" text-anchor="middle">36.3276</text>
<text x="476.3" y="333.2" font-size="9.35" text-anchor="middle">9.73814</text>
<text x="476.3" y="365.8" font-size="9.35" text-anchor="middle">26.741</text>
<rect x="122.5" y="378.5" width="319.5" height="1.1" fill="#6a6a6a"/>
<rect x="125.5" y="384.6" width="67.5" height="14.4" fill="url(#dots2)"/>
<rect x="364" y="384.6" width="78" height="14.4" fill="url(#dots2)"/>
<rect x="193.0" y="389.4" width="49.0" height="1.1" fill="#5a5abc"/>
<rect x="142.7" y="387.4" width="50.5" height="5.2" fill="#3431a1"/>
<rect x="242.0" y="387.4" width="189.0" height="5.2" fill="#3431a1"/>
<path d="M159.5 388.0L161.3 390.0L159.5 392.0" fill="none" stroke="#f0f0ff" stroke-width="0.8"/>
<path d="M178.6 388.0L180.4 390.0L178.6 392.0" fill="none" stroke="#f0f0ff" stroke-width="0.8"/>
<path d="M260.8 388.0L262.6 390.0L260.8 392.0" fill="none" stroke="#f0f0ff" stroke-width="0.8"/>
<path d="M279.7 388.0L281.5 390.0L279.7 392.0" fill="none" stroke="#f0f0ff" stroke-width="0.8"/>
<path d="M298.4 388.0L300.2 390.0L298.4 392.0" fill="none" stroke="#f0f0ff" stroke-width="0.8"/>
<path d="M317.2 388.0L319.0 390.0L317.2 392.0" fill="none" stroke="#f0f0ff" stroke-width="0.8"/>
<path d="M336.0 388.0L337.8 390.0L336.0 392.0" fill="none" stroke="#f0f0ff" stroke-width="0.8"/>
<path d="M354.8 388.0L356.6 390.0L354.8 392.0" fill="none" stroke="#f0f0ff" stroke-width="0.8"/>
<path d="M373.5 388.0L375.3 390.0L373.5 392.0" fill="none" stroke="#f0f0ff" stroke-width="0.8"/>
<path d="M392.0 388.0L393.8 390.0L392.0 392.0" fill="none" stroke="#f0f0ff" stroke-width="0.8"/>
<path d="M410.8 388.0L412.6 390.0L410.8 392.0" fill="none" stroke="#f0f0ff" stroke-width="0.8"/>
<path d="M428.8 388.0L430.6 390.0L428.8 392.0" fill="none" stroke="#f0f0ff" stroke-width="0.8"/>
<path d="M200.7 387.9L202.7 390.0L200.7 392.1" fill="none" stroke="#3431a1" stroke-width="1.1"/>
<path d="M219.5 387.9L221.5 390.0L219.5 392.1" fill="none" stroke="#3431a1" stroke-width="1.1"/>
<path d="M238.4 387.9L240.4 390.0L238.4 392.1" fill="none" stroke="#3431a1" stroke-width="1.1"/>
<text x="278.9" y="404.6" font-size="9.3" text-anchor="middle">Medtr5g007730</text>
<text x="400.7" y="413.8" font-size="7.8" text-anchor="middle" class="b">500pb</text>
<rect x="359.8" y="418.3" width="83.8" height="1.1" fill="#111"/>
</svg>
</body></html>
